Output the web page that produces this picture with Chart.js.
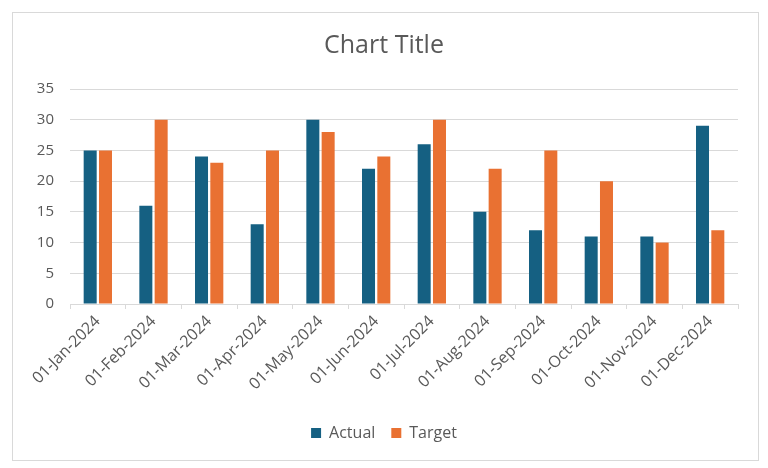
<!DOCTYPE html>
<html>
<head>
<meta charset="utf-8">
<script src="https://cdn.jsdelivr.net/npm/chart.js@4/dist/chart.umd.min.js"></script>
<style>
  body { margin: 0; background: #fff; }
  #wrap { position: relative; width: 768px; height: 468px; }
  #frame { position: absolute; left: 12px; top: 12px; width: 745px; height: 447px; border: 1px solid #d9d9d9; pointer-events: none; }
</style>
</head>
<body>
<div id="wrap">
  <canvas id="myChart" width="768" height="468"></canvas>
  <div id="frame"></div>
</div>
<script>
var months = ['01-Jan-2024', '01-Feb-2024', '01-Mar-2024', '01-Apr-2024', '01-May-2024', '01-Jun-2024',
              '01-Jul-2024', '01-Aug-2024', '01-Sep-2024', '01-Oct-2024', '01-Nov-2024', '01-Dec-2024'];
var actual = [25, 16, 24, 13, 30, 22, 26, 15, 12, 11, 11, 29];
var target = [25, 30, 23, 25, 28, 24, 30, 22, 25, 20, 10, 12];

var textColor = '#595959';
var gridColor = '#d9d9d9';
var fontName = "'Open Sans', 'Noto Sans', sans-serif";

var ctx = document.getElementById('myChart').getContext('2d');
var chart = new Chart(ctx, {
    type: 'bar',
    data: {
        labels: months,
        datasets: [
            {
                label: 'Actual',
                data: actual,
                backgroundColor: '#156082',
                categoryPercentage: 0.55,
                barPercentage: 0.85
            },
            {
                label: 'Target',
                data: target,
                backgroundColor: '#e97132',
                categoryPercentage: 0.55,
                barPercentage: 0.85
            }
        ]
    },
    options: {
        responsive: false,
        animation: false,
        layout: { padding: { top: 20, right: 0, bottom: 17, left: 0 } },
        plugins: {
            title: {
                display: true,
                text: 'Chart Title',
                color: textColor,
                font: { family: fontName, size: 25, weight: 'normal' },
                padding: { top: 11, bottom: 28 }
            },
            legend: {
                position: 'bottom',
                labels: {
                    color: textColor,
                    font: { family: fontName, size: 16 },
                    boxWidth: 10,
                    boxHeight: 10,
                    padding: 16
                }
            },
            tooltip: { enabled: false }
        },
        scales: {
            x: {
                afterFit: function(s) { s.height = 105; },
                grid: {
                    drawOnChartArea: false,
                    color: gridColor,
                    tickLength: 5
                },
                border: { color: gridColor },
                ticks: {
                    color: textColor,
                    font: { family: fontName, size: 16 },
                    maxRotation: 45,
                    minRotation: 45
                }
            },
            y: {
                min: 0,
                max: 35,
                afterFit: function(s) { s.width = 70; },
                grid: { color: gridColor, drawTicks: false },
                border: { display: false },
                ticks: {
                    stepSize: 5,
                    color: textColor,
                    font: { family: fontName, size: 15 },
                    padding: 16
                }
            },
            // empty axis on the right, only keeps a 30px gap
            gap: {
                type: 'linear',
                position: 'right',
                afterFit: function(s) { s.width = 30; },
                grid: { display: false },
                border: { display: false },
                ticks: { display: false }
            }
        }
    }
});
</script>
</body>
</html>
